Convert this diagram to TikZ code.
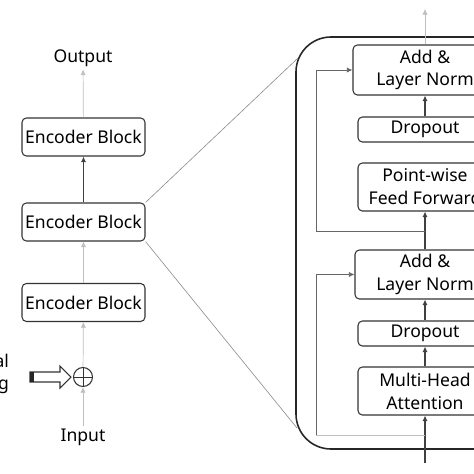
\documentclass[tikz,border=0pt]{standalone}
\usepackage{fontspec}
\setmainfont{Noto Sans}
\usetikzlibrary{arrows.meta}

\begin{document}
\begin{tikzpicture}[x=0.02cm, y=-0.02cm,
  >={Latex[length=3.2pt,width=3pt]},
  blk/.style={draw=black!80, rounded corners=2.5pt, line width=0.6pt,
    align=center, inner sep=0pt, font=\fontsize{10}{13}\selectfont},
  encblk/.style={blk, minimum width=2.46cm, minimum height=0.76cm},
  subblk/.style={blk, minimum width=2.68cm, minimum height=0.96cm},
  thinblk/.style={blk, minimum width=2.68cm, minimum height=0.5cm},
  lbl/.style={font=\fontsize{10}{13}\selectfont, inner sep=1.5pt, align=center},
  lite/.style={black!25, line width=0.4pt},
  dark/.style={black!75, line width=0.6pt},
  res/.style={black!60, line width=0.5pt},
  zoomln/.style={black!45, line width=0.35pt}]

\useasboundingbox (0,0) rectangle (474,474);
\clip (0,0) rectangle (474,474);

% ------------------------------------------------ left: stack of blocks
\node[lbl] (outp) at (83,58) {Output};
\node[encblk] (enc1) at (83.5,137) {Encoder Block};
\node[encblk] (enc2) at (83.5,222) {Encoder Block};
\node[encblk] (enc3) at (83.5,302.5) {Encoder Block};
\node[draw=black!80, circle, line width=0.6pt, minimum size=0.38cm,
  inner sep=0pt] (plus) at (83,377) {};
\draw[black!80, line width=0.5pt] (plus.north) -- (plus.south)
  (plus.west) -- (plus.east);
\node[lbl] (inp) at (83,437) {Input};
\node[lbl, anchor=east, align=right] (posenc) at (12,374)
  {Positional\\Encoding};

% hollow arrow into the sum
\draw[black!80, fill=white, line width=0.6pt]
  (30,372) -- (60,372) -- (60,366) -- (71,377) -- (60,388) -- (60,382)
  -- (30,382) -- cycle;
\fill[black!85] (30,372) rectangle (34,382);

\draw[lite,->] (enc1) -- (outp);
\draw[dark,->] (enc2) -- (enc1);
\draw[lite,->] (enc3) -- (enc2);
\draw[lite,->] (plus) -- (enc3);
\draw[lite,->] (inp) -- (plus);

% ------------------------------------------------ right: one block opened
\draw[black!85, line width=0.9pt, rounded corners=0.7cm]
  (296,37) rectangle (560,449);

\coordinate (zt) at (298,58);
\coordinate (zb) at (297,428);
\draw[zoomln] (enc2.north east) -- (zt);
\draw[zoomln] (enc2.south east) -- (zb);

\node[subblk, minimum width=2.88cm, minimum height=1.0cm] (addA) at (425,70)
  {Add \&\\Layer Norm};
\node[thinblk] (dropA) at (425,129.5) {Dropout};
\node[subblk] (ffn) at (425,187) {Point-wise\\Feed Forward};
\node[subblk, minimum width=2.8cm, minimum height=0.98cm] (addB) at (425,274.5)
  {Add \&\\Layer Norm};
\node[thinblk] (dropB) at (425,333.5) {Dropout};
\node[subblk] (mha) at (425,391) {Multi-Head\\Attention};

\coordinate (outA) at (425,9);
\coordinate (inB) at (425,463);
\coordinate (brA) at (425,231);
\coordinate (brB) at (425,435);
\coordinate (cnB) at (316,435);

\draw[lite,->] (addA) -- (outA);
\draw[dark,->] (dropA) -- (addA);
\draw[dark,->] (addB) -- (ffn);
\draw[dark,->] (dropB) -- (addB);
\draw[dark,->] (mha) -- (dropB);
\draw[dark,->] (inB) -- (mha);

% residual paths
\draw[res,->] (brA) -- ++(-109,0) |- (addA.west);
\draw[lite] (brB) -- (cnB);
\draw[res,->] (cnB) |- (addB.west);

\end{tikzpicture}
\end{document}
